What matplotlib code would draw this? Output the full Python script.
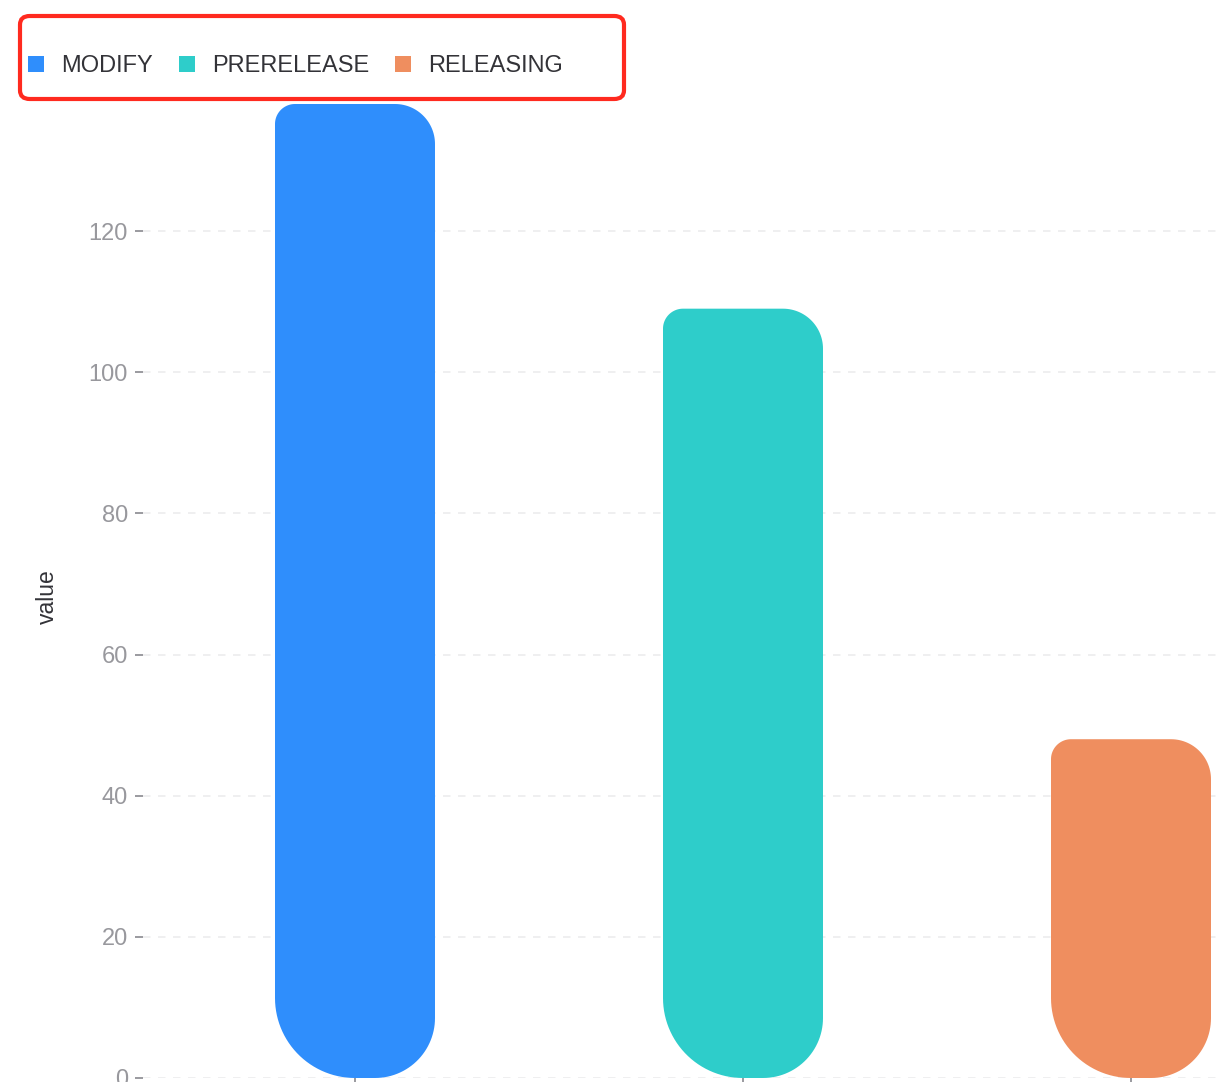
import numpy as np
import matplotlib
matplotlib.use('Agg')
from matplotlib import pyplot as plt
from matplotlib.path import Path
from matplotlib.patches import PathPatch, Patch, FancyBboxPatch

categories = ['MODIFY', 'PRERELEASE', 'RELEASING']
values = [138, 109, 48]
colors = ['#2F8EFC', '#2ECDCA', '#EF8E5F']
yticks = [0, 20, 40, 60, 80, 100, 120]

plt.rcParams['font.family'] = ['Liberation Sans', 'DejaVu Sans']

W, H = 1220, 1082
fig = plt.figure(figsize=(W / 100, H / 100), dpi=100)
# axes box in pixels
left, right, bottom, top = 143, 1220, 1078, 104
ax = fig.add_axes([left / W, (H - bottom) / H, (right - left) / W, (bottom - top) / H])

step = 388.0
ax.set_xlim((left - 355) / step, (right - 355) / step)
ax.set_ylim(0, 138)

for s in ax.spines.values():
    s.set_visible(False)

ax.set_yticks(yticks)
ax.set_yticklabels([str(t) for t in yticks])
ax.set_xticks(range(len(categories)))
ax.tick_params(axis='y', length=5.8, width=1.4, color='#9a9a9f', pad=5,
               labelsize=17, labelcolor='#98989d')
ax.tick_params(axis='x', length=6, width=1.4, color='#9a9a9f', labelbottom=False)
ax.yaxis.grid(True, color='#ececee', linewidth=1.2, linestyle=(0, (4.5, 4.5)))
ax.set_axisbelow(True)

# pixel size of one data unit
sx = (right - left) / (ax.get_xlim()[1] - ax.get_xlim()[0])
sy = (bottom - top) / (ax.get_ylim()[1] - ax.get_ylim()[0])


def rounded_bar(x, h, width_px, radii, color):
    # radii in pixels: top-left, top-right, bottom-right, bottom-left
    w = width_px / sx
    x0, x1 = x - w / 2, x + w / 2
    tl, tr, br, bl = radii
    pts = []

    def arc(cx, cy, r, a0, a1):
        t = np.linspace(a0, a1, 30)
        return [(cx + r / sx * np.cos(a), cy + r / sy * np.sin(a)) for a in t]

    pts += arc(x0 + bl / sx, 0 + bl / sy, bl, np.pi, 1.5 * np.pi)
    pts += arc(x1 - br / sx, 0 + br / sy, br, 1.5 * np.pi, 2 * np.pi)
    pts += arc(x1 - tr / sx, h - tr / sy, tr, 0, 0.5 * np.pi)
    pts += arc(x0 + tl / sx, h - tl / sy, tl, 0.5 * np.pi, np.pi)
    pts.append(pts[0])
    codes = [Path.MOVETO] + [Path.LINETO] * (len(pts) - 2) + [Path.CLOSEPOLY]
    ax.add_patch(PathPatch(Path(pts, codes), facecolor=color, edgecolor='none', zorder=3))


for i, (v, c) in enumerate(zip(values, colors)):
    rounded_bar(i, v, 160, (20, 40, 60, 80), c)

fig.text(47 / W, 1 - 597 / H, 'value', rotation=90, ha='center', va='center',
         fontsize=16.5, color='#333338')

handles = [Patch(facecolor=c, edgecolor='none', label=n) for n, c in zip(categories, colors)]
leg = fig.legend(handles=handles, loc='center left', bbox_to_anchor=(28 / W, 1 - 66 / H),
                 ncol=3, frameon=False, fontsize=17, handlelength=0.68, handleheight=0.68,
                 handletextpad=0.72, columnspacing=1.1, borderpad=0, borderaxespad=0)
for t in leg.get_texts():
    t.set_color('#333338')

box = FancyBboxPatch((20 / W, 1 - 99 / H), 604 / W, 83 / H,
                     boxstyle='round,pad=0,rounding_size=0.008',
                     transform=fig.transFigure, facecolor='none',
                     edgecolor='#FF2A1F', linewidth=3, zorder=5)
fig.patches.append(box)

fig.savefig('out.png', dpi=100)
